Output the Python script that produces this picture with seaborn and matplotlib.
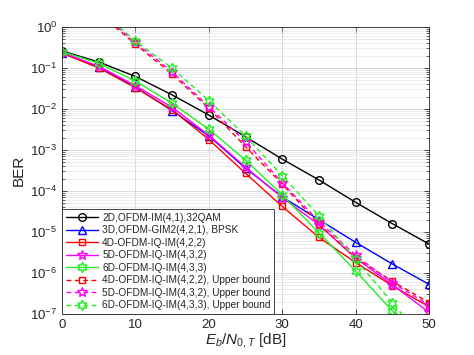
import numpy as np
import pandas as pd
import seaborn as sns
import matplotlib
matplotlib.use("Agg")
import matplotlib.pyplot as plt
from matplotlib.ticker import LogLocator, NullFormatter, MultipleLocator, FixedLocator

sns.set_style("ticks")
plt.rcParams['font.family'] = ['Liberation Sans', 'DejaVu Sans']
plt.rcParams['mathtext.fontset'] = 'custom'
plt.rcParams['mathtext.rm'] = 'Liberation Sans'
plt.rcParams['mathtext.it'] = 'Liberation Sans:italic'

snr = [0, 5, 10, 15, 20, 25, 30, 35, 40, 45, 50]

ber_2d = [0.26, 0.14, 0.062, 0.022, 0.0071, 0.0021, 6.0e-4, 1.86e-4, 5.3e-5, 1.6e-5, 5.1e-6]
ber_3d = [0.23, 0.104, 0.034, 0.0091, 0.0022, 3.6e-4, 7.2e-5, 2.0e-5, 5.6e-6, 1.66e-6, 5.3e-7]
ber_4d = [0.23, 0.10, 0.033, 0.0095, 0.0018, 2.7e-4, 4.2e-5, 7.4e-6, 1.8e-6, 4.9e-7, 1.5e-7]
ber_5d = [0.24, 0.11, 0.037, 0.011, 0.0023, 3.8e-4, 6.9e-5, 1.5e-5, 2.3e-6, 5.2e-7, 1.1e-7]
ber_6d = [0.25, 0.13, 0.048, 0.0138, 0.0032, 5.7e-4, 8.0e-5, 9.6e-6, 1.12e-6, 1.2e-7, 1.2e-8]
ub_4d = [7.0, 2.2, 0.38, 0.071, 0.0104, 0.0012, 1.48e-4, 1.55e-5, 2.35e-6, 6.3e-7, 1.9e-7]
ub_5d = [7.5, 2.4, 0.42, 0.081, 0.0114, 0.0016, 1.6e-4, 1.8e-5, 2.7e-6, 5.8e-7, 1.66e-7]
ub_6d = [8.0, 2.6, 0.46, 0.098, 0.016, 0.0022, 2.35e-4, 2.5e-5, 2.15e-6, 1.9e-7, 1.6e-8]

yticks = [1e-7, 1e-6, 1e-5, 1e-4, 1e-3, 1e-2, 1e-1, 1e0]
xticks = [0, 10, 20, 30, 40, 50]

labels = ["2D,OFDM-IM(4,1),32QAM",
          "3D,OFDM-GIM2(4,2,1), BPSK",
          "4D-OFDM-IQ-IM(4,2,2)",
          "5D-OFDM-IQ-IM(4,3,2)",
          "6D-OFDM-IQ-IM(4,3,3)",
          "4D-OFDM-IQ-IM(4,2,2), Upper bound",
          "5D-OFDM-IQ-IM(4,3,2), Upper bound",
          "6D-OFDM-IQ-IM(4,3,3), Upper bound"]
series = [ber_2d, ber_3d, ber_4d, ber_5d, ber_6d, ub_4d, ub_5d, ub_6d]

hexagram = (6, 1, 0)
colors = ['#000000', '#0000FF', '#FF0000', '#FF00FF', '#22EE22', '#FF0000', '#FF00FF', '#22EE22']
markers = ['o', '^', 's', '*', hexagram, 's', '*', hexagram]
msizes = [5.5, 6, 5, 7.5, 7.5, 5, 7.5, 7.5]
styles = ['-', '-', '-', '-', '-', (0, (3.5, 2.5)), (0, (3.5, 2.5)), (0, (3.5, 2.5))]

fig = plt.figure(figsize=(4.74, 3.55), dpi=100)
ax = fig.add_axes([0.131, 0.1155, 0.774, 0.8085])

for lab, vals, c, m, ms, ls in zip(labels, series, colors, markers, msizes, styles):
    df = pd.DataFrame({"snr": snr, "ber": vals})
    sns.lineplot(data=df, x="snr", y="ber", ax=ax, color=c, marker=m, markersize=ms,
                 markerfacecolor='none', markeredgecolor=c, markeredgewidth=1.0,
                 linestyle=ls, linewidth=1.0, label=lab)

ax.set_yscale('log')
ax.set_xlim(0, 50)
ax.set_ylim(1e-7, 1)
ax.xaxis.set_major_locator(FixedLocator(xticks))
ax.yaxis.set_major_locator(FixedLocator(yticks))
minor = [k * 10.0 ** e for e in range(-7, 0) for k in range(2, 10)]
ax.yaxis.set_minor_locator(FixedLocator(minor))
ax.yaxis.set_minor_formatter(NullFormatter())
ax.tick_params(which='both', direction='in', top=True, right=True, labelsize=9.5, colors='#262626')
ax.tick_params(which='major', length=3.5, width=0.6)
ax.tick_params(which='minor', length=2, width=0.5)
ax.grid(True, which='major', color='#d4d4d4', linewidth=0.6)
ax.grid(True, which='minor', axis='y', color='#e4e4e4', linewidth=0.5)
ax.set_axisbelow(True)
for s in ax.spines.values():
    s.set_color('#262626')
    s.set_linewidth(0.6)

ax.set_xlabel(r'$E_b/N_{0,T}$ [dB]', fontsize=11, color='#262626', labelpad=0)
ax.set_ylabel('BER', fontsize=11, color='#262626', labelpad=3)

leg = ax.legend(loc='lower left', borderaxespad=0, fontsize=7.3, frameon=True, fancybox=False,
                edgecolor='#262626', framealpha=1, handlelength=3.2, handletextpad=0.4,
                labelspacing=0.25, borderpad=0.35)
leg.get_frame().set_linewidth(0.6)

fig.savefig('out.png', dpi=100)
